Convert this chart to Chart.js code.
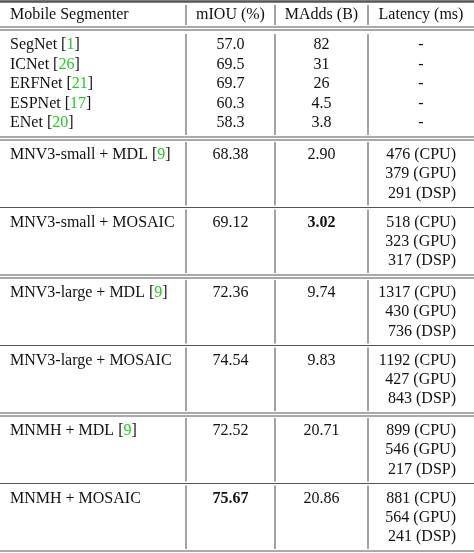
<!DOCTYPE html>
<html>
<head>
<meta charset="utf-8">
<script src="https://cdn.jsdelivr.net/npm/chart.js@4/dist/chart.umd.min.js"></script>
<style>body{margin:0;background:#fff}canvas{display:block}</style>
</head>
<body>
<canvas id="tbl" width="474" height="553"></canvas>
<script>
// table content
const headers = ['Mobile Segmenter', 'mIOU (%)', 'MAdds (B)', 'Latency (ms)'];
const names = ['SegNet', 'ICNet', 'ERFNet', 'ESPNet', 'ENet', 'MNV3-small + MDL', 'MNV3-small + MOSAIC',
    'MNV3-large + MDL', 'MNV3-large + MOSAIC', 'MNMH + MDL', 'MNMH + MOSAIC'];
const refs = ['1', '26', '21', '17', '20', '9', '', '9', '', '9', ''];
const miou = ['57.0', '69.5', '69.7', '60.3', '58.3', '68.38', '69.12', '72.36', '74.54', '72.52', '75.67'];
const madds = ['82', '31', '26', '4.5', '3.8', '2.90', '3.02', '9.74', '9.83', '20.71', '20.86'];
const cpu = [null, null, null, null, null, 476, 518, 1317, 1192, 899, 881];
const gpu = [null, null, null, null, null, 379, 323, 430, 427, 546, 564];
const dsp = [null, null, null, null, null, 291, 317, 736, 843, 217, 241];
const groups = [[0, 1, 2, 3, 4], [5], [6], [7], [8], [9], [10]];
const sepAfter = ['double', 'single', 'double', 'single', 'double', 'single', 'double'];
const boldMiou = [10];
const boldMadds = [6];

const colEdges = [4, 186, 275, 368, 474];
const font = '16px "Liberation Serif"';
const boldFont = 'bold 16px "Liberation Serif"';

const tablePlugin = {
    id: 'table',
    afterDraw(chart) {
        const ctx = chart.ctx;
        const x = v => chart.scales.x.getPixelForValue(v);
        const y = v => chart.scales.y.getPixelForValue(v);
        ctx.save();
        ctx.textBaseline = 'middle';

        const hline = (yy, w) => {
            ctx.strokeStyle = '#555';
            ctx.lineWidth = w || 1.2;
            ctx.beginPath(); ctx.moveTo(x(0), y(yy)); ctx.lineTo(x(474), y(yy)); ctx.stroke();
        };
        const vlines = (y0, y1) => {
            ctx.strokeStyle = '#666';
            ctx.lineWidth = 1.2;
            [1, 2, 3].forEach(i => {
                ctx.beginPath(); ctx.moveTo(x(colEdges[i]), y(y0)); ctx.lineTo(x(colEdges[i]), y(y1)); ctx.stroke();
            });
        };
        const text = (s, xx, yy, align, f, color) => {
            ctx.font = f || font;
            ctx.fillStyle = color || '#111';
            ctx.textAlign = align;
            ctx.fillText(s, x(xx), y(yy));
        };
        const center = i => (colEdges[i] + colEdges[i + 1]) / 2;

        // top rule + header
        hline(1.5, 2.5);
        vlines(5, 25);
        text(headers[0], 10, 15, 'left');
        [1, 2, 3].forEach(i => text(headers[i], center(i), 15, 'center'));
        hline(27); hline(30);

        const step = 19.5;
        let cy = 45;
        let top = 32;
        groups.forEach((g, gi) => {
            let last = cy;
            g.forEach((r, k) => {
                const rowY = cy + k * step;
                // name + green reference
                ctx.font = font;
                let label = names[r];
                text(label, 10, rowY, 'left');
                if (refs[r]) {
                    let px = 10 + ctx.measureText(label + ' ').width;
                    text('[', px, rowY, 'left');
                    px += ctx.measureText('[').width;
                    text(refs[r], px, rowY, 'left', font, '#22cc22');
                    px += ctx.measureText(refs[r]).width;
                    text(']', px, rowY, 'left');
                }
                text(miou[r], center(1), rowY, 'center', boldMiou.includes(r) ? boldFont : font);
                text(madds[r], center(2), rowY, 'center', boldMadds.includes(r) ? boldFont : font);
                if (cpu[r] === null) {
                    text('-', center(3), rowY, 'center');
                    last = rowY;
                } else {
                    text(cpu[r] + ' (CPU)', 456, rowY, 'right');
                    text(gpu[r] + ' (GPU)', 456, rowY + 19, 'right');
                    text(dsp[r] + ' (DSP)', 456, rowY + 38.5, 'right');
                    last = rowY + 38.5;
                }
            });
            const sep = last + 14;
            vlines(top + 2, sep - 2);
            hline(sep);
            if (sepAfter[gi] === 'double') hline(sep + 3);
            top = sep + (sepAfter[gi] === 'double' ? 3 : 0);
            cy = sep + 15 + (sepAfter[gi] === 'double' ? 3 : 0);
        });
        ctx.restore();
    }
};

new Chart(document.getElementById('tbl').getContext('2d'), {
    type: 'scatter',
    data: { datasets: [{ data: [] }] },
    options: {
        responsive: false,
        animation: false,
        layout: { padding: 0 },
        plugins: { legend: { display: false }, tooltip: { enabled: false } },
        scales: {
            x: { type: 'linear', min: 0, max: 474, display: false },
            y: { type: 'linear', min: 0, max: 553, reverse: true, display: false }
        }
    },
    plugins: [tablePlugin]
});
</script>
</body>
</html>
